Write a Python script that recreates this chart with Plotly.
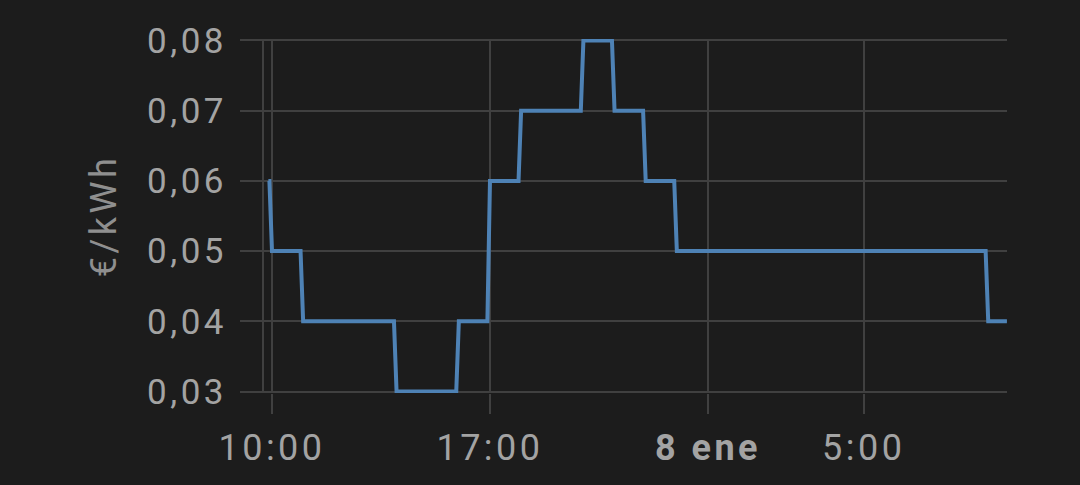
import plotly.graph_objects as go
import pandas as pd

# ---- data ----
hour_starts = pd.date_range("2023-01-07 09:00", "2023-01-08 09:00", freq="h")
prices = [0.06, 0.05, 0.04, 0.04, 0.04, 0.03, 0.03, 0.04, 0.06, 0.07, 0.07,
          0.08, 0.07, 0.06, 0.05, 0.05, 0.05, 0.05, 0.05, 0.05, 0.05, 0.05,
          0.05, 0.05, 0.04]
data_start = pd.Timestamp("2023-01-07 09:53")
data_end = pd.Timestamp("2023-01-08 09:36")
hold_minutes = 55  # each hourly price is sampled until hh:55

tick_vals = ["2023-01-07 10:00", "2023-01-07 17:00", "2023-01-08 00:00", "2023-01-08 05:00"]
tick_text = ["10:00", "17:00", "<b>8 ene</b>", "5:00"]
y_ticks = [0.03, 0.04, 0.05, 0.06, 0.07, 0.08]
y_tick_text = ["0,03", "0,04", "0,05", "0,06", "0,07", "0,08"]

# build sample points of the hourly series
xs, ys = [], []
for h, p in zip(hour_starts, prices):
    a = max(h, data_start)
    b = min(h + pd.Timedelta(minutes=hold_minutes), data_end)
    if b < data_start:
        continue
    xs.append(a); ys.append(p)
    xs.append(b); ys.append(p)

BG = "#1c1c1c"
GRID = "#404040"
LABEL = "#a3a3a3"
FONT = "Roboto"

fig = go.Figure()
fig.add_trace(go.Scatter(
    x=xs, y=ys, mode="lines",
    line=dict(color="#4e82b5", width=4),
    hoverinfo="skip",
))

fig.update_layout(
    width=1080, height=485,
    paper_bgcolor=BG, plot_bgcolor=BG,
    margin=dict(l=264, r=73, t=39, b=92, autoexpand=False),
    showlegend=False,
    font=dict(family=FONT, color=LABEL, size=35),
)
fig.update_xaxes(
    type="date",
    range=["2023-01-07 09:44:35", "2023-01-08 09:36:10"],
    tickmode="array", tickvals=tick_vals, ticktext=tick_text,
    showgrid=True, gridcolor=GRID, gridwidth=2,
    ticks="outside", ticklen=20, tickcolor=GRID, tickwidth=2,
    tickfont=dict(family=FONT, size=36, color=LABEL),
    ticklabelstandoff=3,
    showline=False, zeroline=False, automargin=False,
)
fig.update_yaxes(
    range=[0.0298, 0.0802],
    tickmode="array", tickvals=y_ticks, ticktext=y_tick_text,
    showgrid=True, gridcolor=GRID, gridwidth=2,
    ticks="outside", ticklen=22, tickcolor=GRID, tickwidth=2,
    tickfont=dict(family=FONT, size=35, color=LABEL),
    ticklabelstandoff=6,
    showline=True, linecolor=GRID, linewidth=2,
    zeroline=False, automargin=False,
    title=dict(text="€/kWh", font=dict(family=FONT, size=36, color="#8f8f8f"), standoff=33),
)

post = """
document.body.style.margin='0';
document.body.style.background='#1c1c1c';
var s=document.createElement('style');
s.innerHTML='.xtick text, .ytick text, .g-ytitle text {letter-spacing: 3.5px;}';
document.head.appendChild(s);
"""
fig.write_html("out.html", config={"displayModeBar": False}, post_script=post)
